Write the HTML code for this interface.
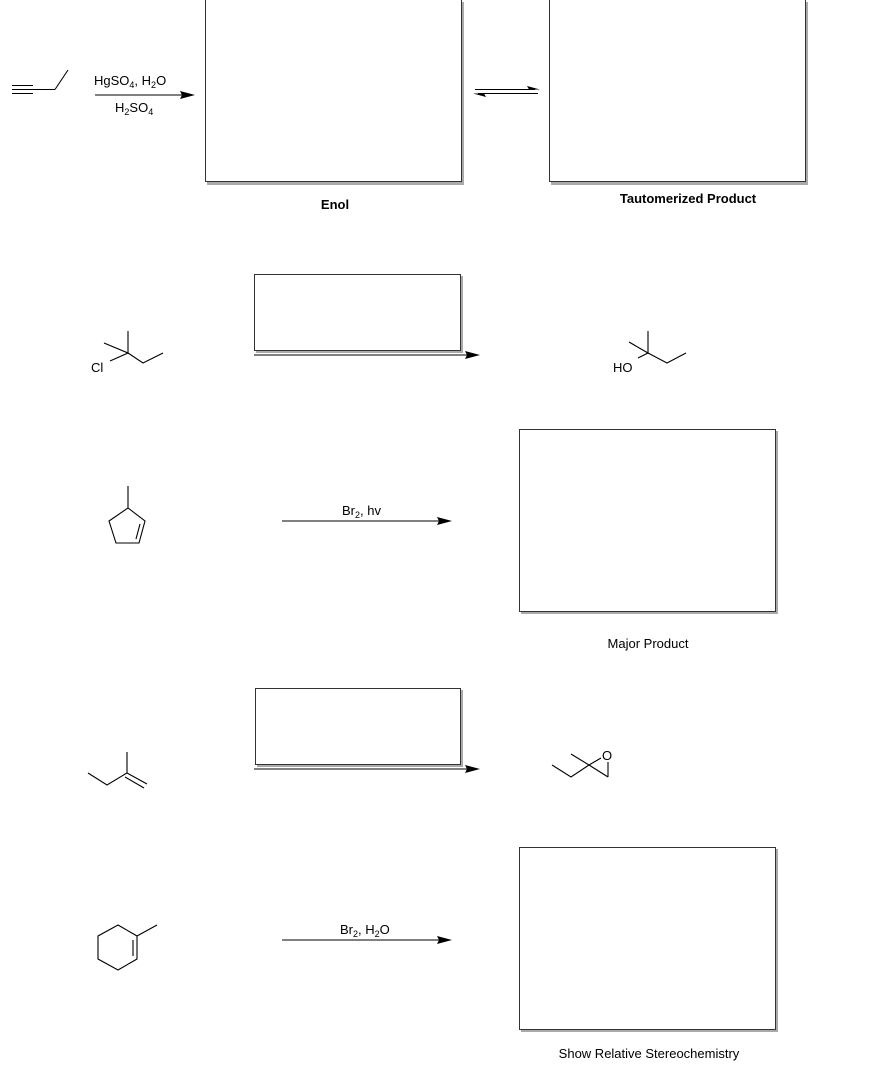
<!DOCTYPE html>
<html><head><style>
body{margin:0;background:#fff;}
svg{display:block;font-family:"Liberation Sans",Arial,sans-serif;}
</style></head><body>
<svg width="874" height="1066" viewBox="0 0 874 1066" xmlns="http://www.w3.org/2000/svg">
<g fill="#aaa">
<rect x="207" y="2" width="257" height="183"/>
<rect x="551" y="2" width="257" height="183"/>
<rect x="256" y="276" width="207" height="77"/>
<rect x="521" y="431" width="257" height="183"/>
<rect x="257" y="690" width="206" height="77"/>
<rect x="521" y="849" width="257" height="183"/>
</g>
<g fill="#fff" stroke="#333" stroke-width="1">
<rect x="205.5" y="-0.5" width="256" height="182"/>
<rect x="549.5" y="-0.5" width="256" height="182"/>
<rect x="254.5" y="274.5" width="206" height="76"/>
<rect x="519.5" y="429.5" width="256" height="182"/>
<rect x="255.5" y="688.5" width="205" height="76"/>
<rect x="519.5" y="847.5" width="256" height="182"/>
</g>
<g stroke="#000" stroke-width="1.1" fill="none">
<line x1="95" y1="95" x2="185" y2="95"/>
<line x1="254" y1="355" x2="470" y2="355"/>
<line x1="254" y1="769" x2="470" y2="769"/>
<line x1="282" y1="521" x2="442" y2="521"/>
<line x1="282" y1="940" x2="442" y2="940"/>
<line x1="478" y1="93.5" x2="538" y2="93.5"/>
<line x1="475" y1="89.5" x2="535" y2="89.5"/>
<line x1="12" y1="85.5" x2="33" y2="85.5"/>
<line x1="12" y1="89.5" x2="55" y2="89.5"/>
<line x1="12" y1="93.5" x2="33" y2="93.5"/>
<polyline points="55,89.5 68,70"/>
<polyline points="128,331 128,353 104,343"/>
<polyline points="128,353 143,363 163,353"/>
<line x1="128" y1="353" x2="110" y2="361"/>
<polyline points="648,331 648,353 629,342"/>
<polyline points="648,353 667,363 686,353"/>
<line x1="648" y1="353" x2="638" y2="358"/>
<line x1="128" y1="486" x2="128" y2="508"/>
<polygon points="128,508 145,521 139,543 116,543 109,521"/>
<line x1="140" y1="524" x2="136" y2="539"/>
<polyline points="88,773 107,785 127,773 127,752"/>
<line x1="127" y1="773" x2="147" y2="784"/>
<line x1="125" y1="777" x2="144" y2="788"/>
<polyline points="552,765 571,777 589,765 571,754"/>
<line x1="589" y1="765" x2="601" y2="758"/>
<line x1="608" y1="762" x2="608" y2="777"/>
<line x1="589" y1="765" x2="608" y2="777"/>
<polygon points="118,925 137,936 137,959 118,970 98,959 98,936"/>
<line x1="137" y1="936" x2="157" y2="925"/>
<line x1="133" y1="940" x2="133" y2="956"/>
</g>
<g fill="#000">
<polygon points="195,95 180,91 182,95 180,99"/>
<polygon points="480,355 465,351 467,355 465,359"/>
<polygon points="480,769 465,765 467,769 465,773"/>
<polygon points="452,521 437,517 439,521 437,525"/>
<polygon points="452,940 437,936 439,940 437,944"/>
<polygon points="540,89.5 527,86 529,89.5"/>
<polygon points="473,93.5 486,97 484,93.5"/>
</g>
<g font-size="13" fill="#000">
<text x="94" y="85">HgSO<tspan font-size="9" dy="3">4</tspan><tspan dy="-3">, H</tspan><tspan font-size="9" dy="3">2</tspan><tspan dy="-3">O</tspan></text>
<text x="115" y="112">H<tspan font-size="9" dy="3">2</tspan><tspan dy="-3">SO</tspan><tspan font-size="9" dy="3">4</tspan></text>
<text x="342" y="515">Br<tspan font-size="9" dy="3">2</tspan><tspan dy="-3">, hv</tspan></text>
<text x="340" y="934">Br<tspan font-size="9" dy="3">2</tspan><tspan dy="-3">, H</tspan><tspan font-size="9" dy="3">2</tspan><tspan dy="-3">O</tspan></text>
<text x="91" y="372">Cl</text>
<text x="613" y="372">HO</text>
<text x="602" y="760">O</text>
<text x="335" y="209" font-weight="bold" text-anchor="middle">Enol</text>
<text x="688" y="203" font-weight="bold" text-anchor="middle">Tautomerized Product</text>
<text x="648" y="648" text-anchor="middle">Major Product</text>
<text x="649" y="1058" text-anchor="middle">Show Relative Stereochemistry</text>
</g>
</svg>
</body></html>
